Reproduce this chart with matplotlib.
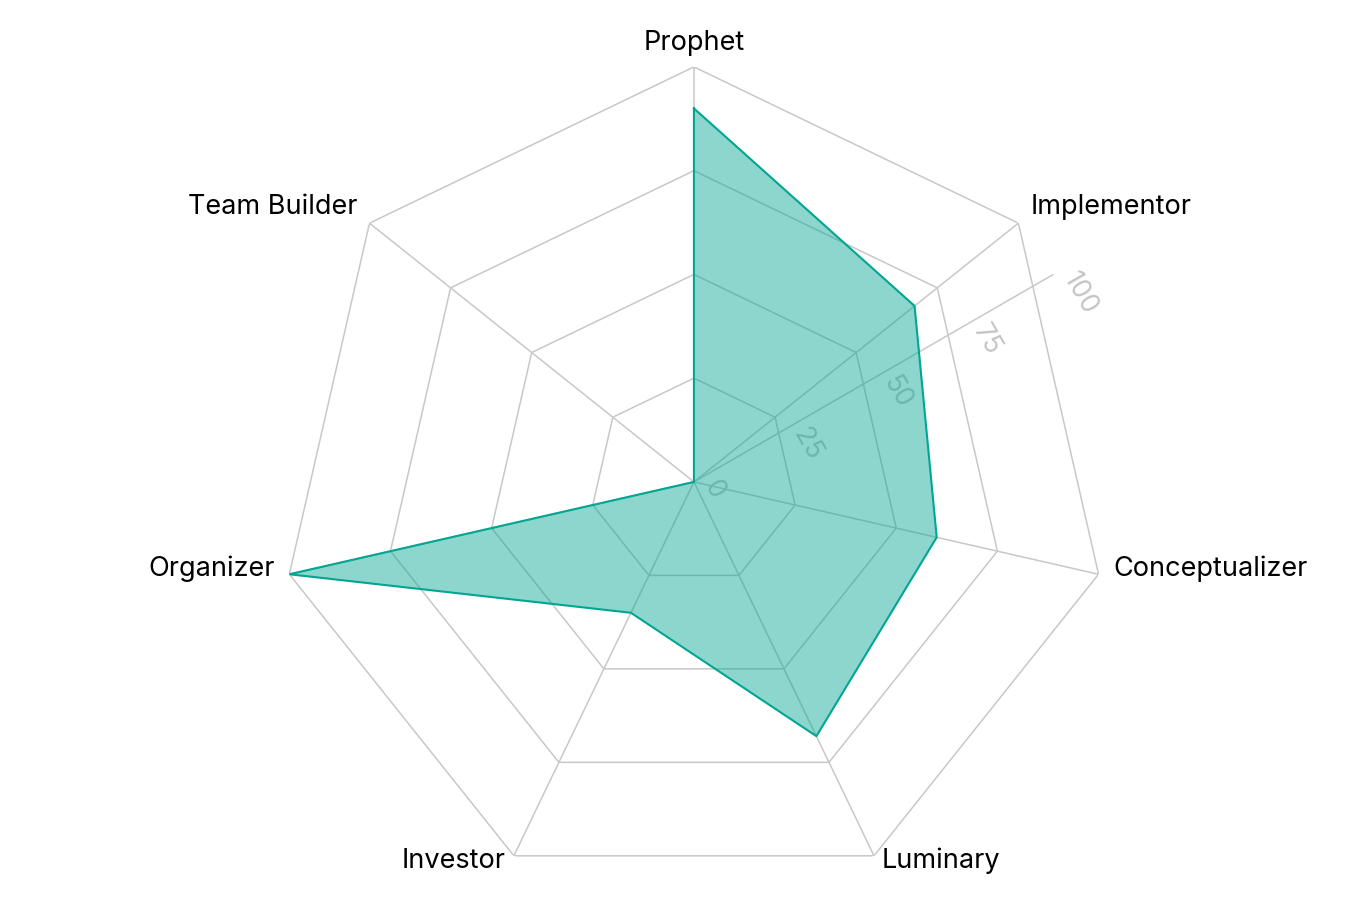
import matplotlib.pyplot as plt
import numpy as np

categories = ["Prophet", "Implementor", "Conceptualizer", "Luminary", "Investor", "Organizer", "Team Builder"]
values = [90, 68, 60, 68, 35, 100, 0]
rticks = [0, 25, 50, 75, 100]

# label offsets in pixels (dx, dy) and alignment, one per category
label_off = [(0, 24), (12, 16), (15, 6), (8, -5), (-8, -5), (-14, 6), (-12, 16)]
label_ha = ["center", "left", "left", "left", "right", "right", "right"]

grid_col = "#c8c8c8"
teal = "#00a691"

plt.rcParams['font.family'] = ['Inter', 'DejaVu Sans']

fig = plt.figure(figsize=(13.58, 8.98), dpi=100)
ax = fig.add_axes([0.2054, 0.0012, 0.6112, 0.9243], polar=True)
ax.set_theta_zero_location('N')
ax.set_theta_direction(-1)
ax.set_ylim(0, 100)
ax.grid(False)
ax.set_xticks([])
ax.set_yticks([])
ax.spines['polar'].set_visible(False)

n = len(categories)
ang = np.arange(n) * 2 * np.pi / n
ang_c = np.append(ang, ang[0])

# polygon grid + spokes
for r in rticks[1:]:
    ax.plot(ang_c, [r] * (n + 1), color=grid_col, lw=1.1, zorder=1)
for a in ang:
    ax.plot([a, a], [0, 100], color=grid_col, lw=1.1, zorder=1)

# radial axis line at 30 deg above east
rad_ang = np.pi / 3
ax.plot([rad_ang, rad_ang], [0, 100], color=grid_col, lw=1.1, zorder=1)
for t in rticks:
    ax.annotate(str(t), xy=(rad_ang, t), xytext=(4, -7), textcoords='offset pixels',
                rotation=-60, rotation_mode='anchor', ha='left', va='bottom',
                fontsize=19, color='#c4c4c4', annotation_clip=False, zorder=1.5)

vals_c = np.append(values, values[0])
ax.fill(ang_c, vals_c, color=teal, alpha=0.45, lw=0, zorder=2)
ax.plot(ang_c, vals_c, color=teal, lw=1.5, zorder=3)

for a, lab, off, ha in zip(ang, categories, label_off, label_ha):
    ax.annotate(lab, xy=(a, 100), xytext=off, textcoords='offset pixels',
                ha=ha, va='center', fontsize=19.5, color='black', annotation_clip=False)

fig.savefig("out.png", dpi=100)
